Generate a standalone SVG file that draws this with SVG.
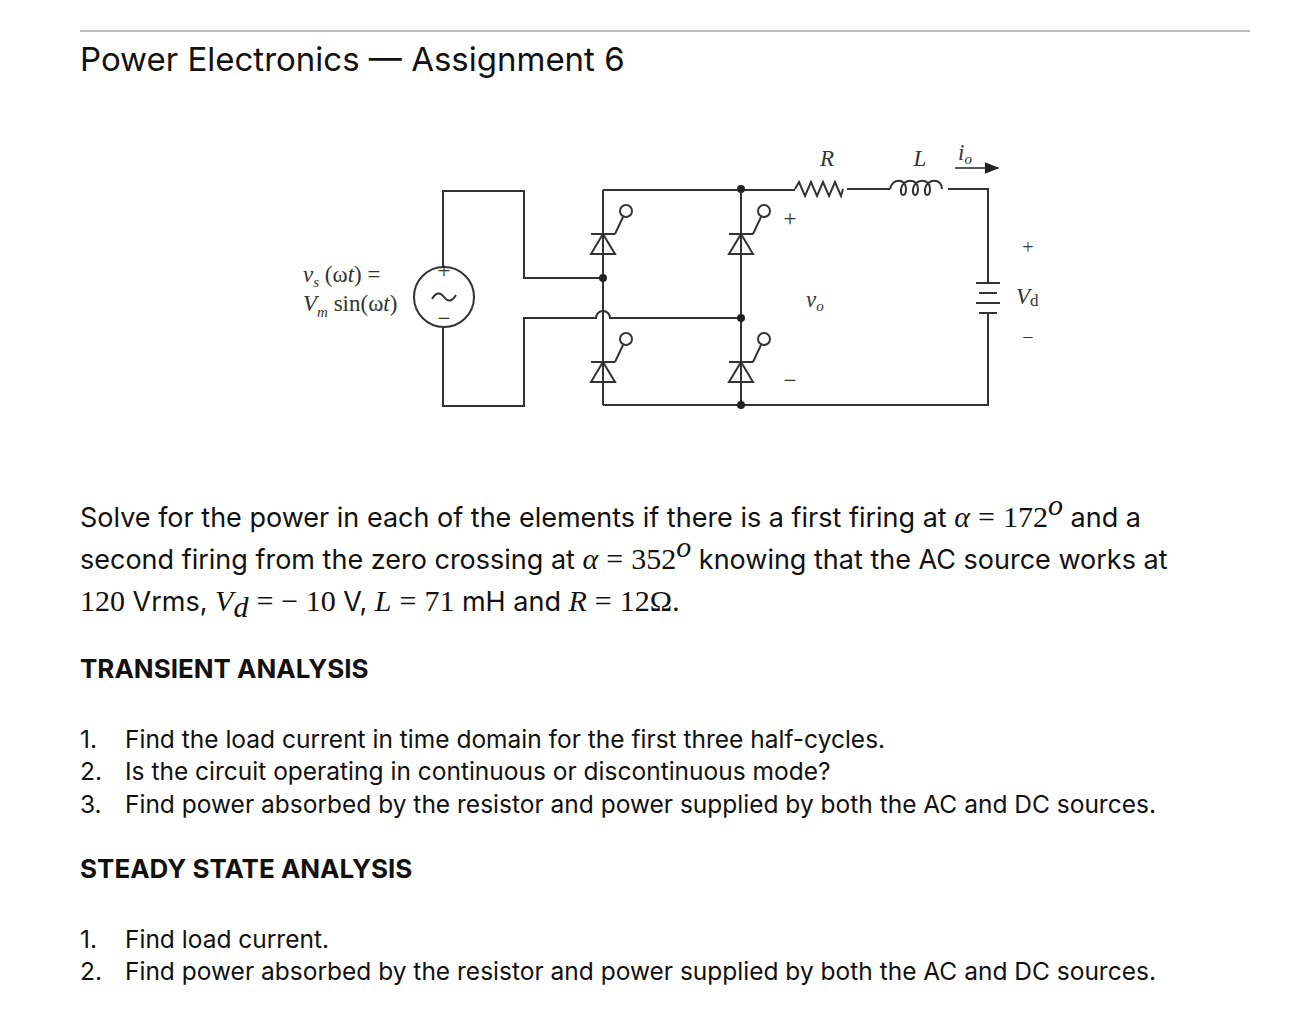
<svg xmlns="http://www.w3.org/2000/svg" width="1290" height="1020" viewBox="0 0 1290 1020">
<style>
.w{fill:none;stroke:#333;stroke-width:2}
.t{font-family:Inter,"Liberation Sans",sans-serif;font-size:27px;fill:#111}
.l{font-family:Inter,"Liberation Sans",sans-serif;font-size:24.5px;fill:#111}
.h{font-family:Inter,"Liberation Sans",sans-serif;font-size:26px;font-weight:bold;fill:#111}
.m{font-family:"Liberation Serif",serif;font-size:30px}
.c{font-family:"Liberation Serif",serif;font-size:23px;fill:#333}
.d{fill:#222}
</style>
<defs>
<g id="scr"><path class="w" d="M-12,0H12M-12,20H12L0,0Z"/><path class="w" d="M12,0L20,-17"/><circle class="w" cx="23" cy="-23" r="6" fill="#fff"/></g>
<marker id="ar" markerWidth="10" markerHeight="8" refX="9" refY="4" orient="auto"><path d="M0,0L10,4L0,8Z" fill="#222"/></marker>
</defs>
<rect width="1290" height="1020" fill="#fff"/>
<line x1="80" y1="31" x2="1250" y2="31" stroke="#aaa" stroke-width="1.5"/>
<text x="80" y="71" font-family="Inter,'Liberation Sans',sans-serif" font-size="33" fill="#111">Power Electronics — Assignment 6</text>
<g id="connectors">
<path class="w" d="M443,267V191H524V278H603"/>
<path class="w" d="M443,327V406H524V318H596A7,7 0 0 1 610,318H741"/>
<path class="w" d="M603,190H795M847,189H890M948,189H988V283M988,313V405H603"/>
<path class="w" d="M603,190V405M741,189V405"/>
<path class="w" d="M795,189l4,-7l6,14l6,-14l6,14l6,-14l6,14l6,-14l6,14l2,-7"/>
<path class="w" d="M890,189c2,-11 16,-11 16,0c0,8 -6,8 -5,0c2,-11 17,-11 17,0c0,8 -6,8 -5,0c2,-11 17,-11 17,0c0,8 -6,8 -5,0c2,-11 17,-11 17,0"/>
<path class="w" d="M976,283h24M979,293h18M976,303h24M979,313h18"/>
<line x1="955" y1="168" x2="998" y2="168" stroke="#222" stroke-width="1.5" marker-end="url(#ar)"/>
</g>
<g id="source"><circle class="w" cx="444" cy="297" r="30" fill="#fff"/><text x="444" y="278" class="c" text-anchor="middle" font-size="18">+</text><path class="w" d="M432,299q6,-10 12,-2t12,-2"/><text x="444" y="326" class="c" text-anchor="middle" font-size="18">−</text></g>
<g id="thyristors"><use href="#scr" x="603" y="234"/><use href="#scr" x="741" y="234"/><use href="#scr" x="603" y="362"/><use href="#scr" x="741" y="362"/></g>
<g id="dots" class="d"><circle cx="741" cy="189" r="4"/><circle cx="603" cy="278" r="4"/><circle cx="741" cy="318" r="4"/><circle cx="741" cy="405" r="4"/></g>
<g id="labels" class="c">
<text x="303" y="282" font-style="italic">v<tspan font-size="15" dy="5">s</tspan><tspan dy="-5" font-style="normal"> (ω<tspan font-style="italic">t</tspan>) =</tspan></text>
<text x="303" y="311" font-style="italic">V<tspan font-size="15" dy="6">m</tspan><tspan dy="-6" font-style="normal"> sin(ω<tspan font-style="italic">t</tspan>)</tspan></text>
<text x="827" y="166" text-anchor="middle" font-style="italic">R</text>
<text x="920" y="166" text-anchor="middle" font-style="italic">L</text>
<text x="958" y="160" font-style="italic">i<tspan font-size="15" dy="4">o</tspan></text>
<text x="790" y="226" text-anchor="middle">+</text>
<text x="806" y="307" font-style="italic">v<tspan font-size="15" dy="4">o</tspan></text>
<text x="790" y="388" text-anchor="middle">−</text>
<text x="1028" y="254" text-anchor="middle" font-size="20">+</text>
<text x="1016" y="304" font-style="italic">V<tspan font-style="normal" font-size="17" dy="2">d</tspan></text>
<text x="1028" y="344" text-anchor="middle" font-size="20">−</text>
</g>
<text class="t" x="80" y="527">Solve for the power in each of the elements if there is a first firing at <tspan class="m" font-style="italic">α</tspan><tspan class="m" dx="8">=</tspan><tspan class="m" dx="8">172</tspan><tspan class="m" font-style="italic" font-size="20" dy="-12">o</tspan><tspan dy="12"> and a</tspan></text>
<text class="t" x="80" y="569">second firing from the zero crossing at <tspan class="m" font-style="italic">α</tspan><tspan class="m" dx="8">=</tspan><tspan class="m" dx="8">352</tspan><tspan class="m" font-style="italic" font-size="20" dy="-12">o</tspan><tspan dy="12"> knowing that the AC source works at</tspan></text>
<text class="t" x="80" y="611"><tspan class="m">120</tspan> Vrms, <tspan class="m" font-style="italic">V</tspan><tspan class="m" font-style="italic" font-size="21" dy="6">d</tspan><tspan class="m" dy="-6" dx="8">=</tspan><tspan class="m" dx="8">− 10</tspan> V, <tspan class="m" font-style="italic">L</tspan><tspan class="m" dx="8">=</tspan><tspan class="m" dx="8">71</tspan> mH and <tspan class="m" font-style="italic">R</tspan><tspan class="m" dx="8">=</tspan><tspan class="m" dx="8">12Ω</tspan>.</text>
<text class="h" x="80" y="678">TRANSIENT ANALYSIS</text>
<g class="l">
<text x="80" y="748">1.</text><text x="125" y="748">Find the load current in time domain for the first three half-cycles.</text>
<text x="80" y="780">2.</text><text x="125" y="780">Is the circuit operating in continuous or discontinuous mode?</text>
<text x="80" y="813">3.</text><text x="125" y="813">Find power absorbed by the resistor and power supplied by both the AC and DC sources.</text>
<text x="80" y="948">1.</text><text x="125" y="948">Find load current.</text>
<text x="80" y="980">2.</text><text x="125" y="980">Find power absorbed by the resistor and power supplied by both the AC and DC sources.</text>
</g>
<text class="h" x="80" y="878">STEADY STATE ANALYSIS</text>
</svg>
